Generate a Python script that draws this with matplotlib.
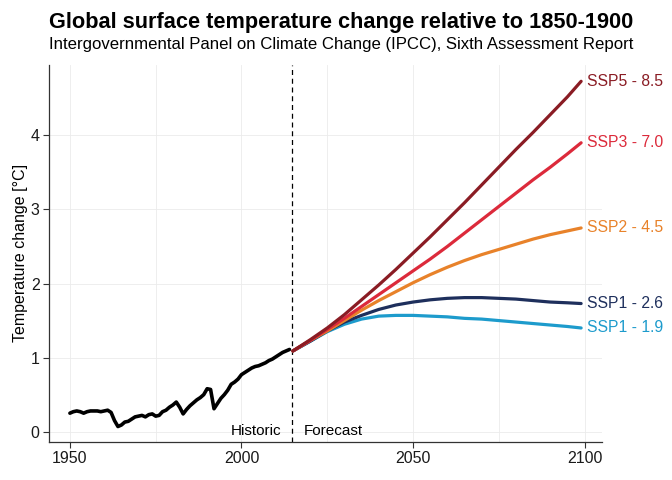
import numpy as np
import matplotlib
matplotlib.use("Agg")
from matplotlib import pyplot as plt
from matplotlib.ticker import MultipleLocator

plt.rcParams['font.family'] = ['Liberation Sans', 'DejaVu Sans']

# historic observations (annual, smoothed)
hist_years = list(range(1950, 2015))
hist_temp = [0.25, 0.27, 0.28, 0.27, 0.25, 0.27, 0.28, 0.28, 0.28, 0.27,
             0.28, 0.29, 0.26, 0.15, 0.07, 0.09, 0.13, 0.14, 0.17, 0.20,
             0.21, 0.22, 0.20, 0.23, 0.24, 0.21, 0.22, 0.27, 0.29, 0.33,
             0.36, 0.40, 0.33, 0.24, 0.30, 0.35, 0.39, 0.43, 0.46, 0.50,
             0.58, 0.57, 0.31, 0.38, 0.45, 0.50, 0.56, 0.64, 0.67, 0.71,
             0.77, 0.80, 0.83, 0.86, 0.88, 0.89, 0.91, 0.93, 0.96, 0.98,
             1.01, 1.04, 1.07, 1.09, 1.11]

# scenario projections
fc_years = [2015, 2020, 2025, 2030, 2035, 2040, 2045, 2050, 2055, 2060,
            2065, 2070, 2075, 2080, 2085, 2090, 2095, 2099]
ssp585 = [1.09, 1.24, 1.40, 1.58, 1.78, 1.98, 2.19, 2.41, 2.63, 2.86,
          3.09, 3.33, 3.57, 3.81, 4.04, 4.28, 4.52, 4.73]
ssp370 = [1.09, 1.23, 1.38, 1.53, 1.69, 1.85, 2.01, 2.17, 2.33, 2.50,
          2.68, 2.86, 3.04, 3.22, 3.40, 3.57, 3.75, 3.90]
ssp245 = [1.09, 1.23, 1.36, 1.50, 1.64, 1.77, 1.89, 2.01, 2.12, 2.22,
          2.31, 2.39, 2.46, 2.53, 2.60, 2.66, 2.71, 2.75]
ssp126 = [1.09, 1.22, 1.36, 1.48, 1.57, 1.65, 1.71, 1.75, 1.78, 1.80,
          1.81, 1.81, 1.80, 1.79, 1.77, 1.75, 1.74, 1.73]
ssp119 = [1.09, 1.22, 1.35, 1.45, 1.52, 1.56, 1.57, 1.57, 1.56, 1.55,
          1.53, 1.52, 1.50, 1.48, 1.46, 1.44, 1.42, 1.40]

scenarios = [('SSP5 - 8.5', ssp585, '#8a1c24'),
             ('SSP3 - 7.0', ssp370, '#dc2a3b'),
             ('SSP2 - 4.5', ssp245, '#e8822a'),
             ('SSP1 - 2.6', ssp126, '#1e2f5c'),
             ('SSP1 - 1.9', ssp119, '#1d9bcc')]

fig = plt.figure(figsize=(6.72, 4.8), dpi=100)
ax = fig.add_axes([0.0734, 0.0798, 0.822, 0.7848])

ax.plot(hist_years, hist_temp, color='black', lw=2.6, solid_capstyle='round', zorder=3)
# lowest scenario first so the high ones sit on top
for name, vals, col in scenarios[::-1]:
    ax.plot(fc_years, vals, color=col, lw=2.3, solid_capstyle='round', zorder=3)
    ax.text(fc_years[-1] + 1.6, vals[-1], name, color=col, fontsize=11.3,
            va='center', ha='left', clip_on=False)

ax.axvline(2014.7, color='black', lw=0.9, ls=(0, (4, 3)), zorder=2)
ax.text(2011.6, -0.04, 'Historic', ha='right', va='baseline', fontsize=11)
ax.text(2018.2, -0.04, 'Forecast', ha='left', va='baseline', fontsize=11)

ax.set_xlim(1944, 2105)
ax.set_ylim(-0.135, 4.95)
ax.xaxis.set_major_locator(MultipleLocator(50))
ax.xaxis.set_minor_locator(MultipleLocator(25))
ax.yaxis.set_major_locator(MultipleLocator(1))
ax.grid(which='major', color='#ebebeb', lw=0.6)
ax.grid(which='minor', axis='x', color='#ebebeb', lw=0.6)
ax.set_axisbelow(True)
ax.tick_params(which='minor', length=0)
ax.tick_params(which='major', length=4, width=0.8, color='#333333',
               labelsize=11.5, labelcolor='#1a1a1a', pad=3)
for s in ['top', 'right']:
    ax.spines[s].set_visible(False)
for s in ['left', 'bottom']:
    ax.spines[s].set_color('#333333')
    ax.spines[s].set_linewidth(0.9)

ax.set_ylabel('Temperature change [°C]', fontsize=11.5, labelpad=2)

fig.text(0.0734, 0.942, 'Global surface temperature change relative to 1850-1900',
         fontsize=15.7, fontweight='bold', ha='left', va='baseline')
fig.text(0.0734, 0.897, 'Intergovernmental Panel on Climate Change (IPCC), Sixth Assessment Report',
         fontsize=12.1, ha='left', va='baseline')

fig.savefig('out.png', dpi=100)
